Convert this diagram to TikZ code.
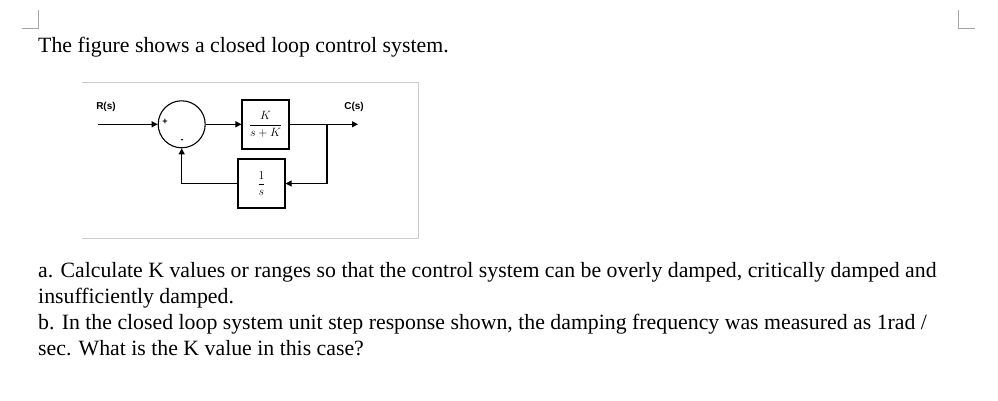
\documentclass[tikz,border=0pt]{standalone}
\usepackage{fontspec}
\setmainfont{Liberation Serif}
\newfontfamily\lsans{Liberation Sans}
\usetikzlibrary{arrows.meta}
\begin{document}
\begin{tikzpicture}[x=1pt,y=-1pt,
  blk/.style={draw,line width=1.1pt,minimum width=47pt,minimum height=49pt,inner sep=0pt},
  sig/.style={line width=1.1pt,-{Triangle[length=6pt,width=6pt]}},
  ln/.style={line width=1.1pt},
  txt/.style={anchor=base west,inner sep=0pt,font=\fontsize{21.8}{24}\selectfont}]
\useasboundingbox (0,0) rectangle (998,401);
\fill[white] (0,0) rectangle (998,401);
% corner marks
\draw[gray!70] (22,28) -- (38,28) -- (38,10);
\draw[gray!70] (958,10) -- (958,28) -- (975,28);
\node[txt] (t1) at (38,53) {The figure shows a closed loop control system.};
% panel frame
\draw[gray!40] (82,82) -- (418,82) -- (418,238) -- (82,238);
% diagram
\node[draw,circle,line width=1.1pt,minimum size=47pt,inner sep=0pt] (sum) at (181.7,124.3) {};
\node[blk] (G) at (265.5,124.5) {\large$\displaystyle\frac{K}{s+K}$};
\node[blk] (H) at (261.5,183.5) {\large$\displaystyle\frac{1}{s}$};
\coordinate (in) at (98,124.3);
\coordinate (br) at (327,124.3);
\coordinate (out) at (358,124.3);
\draw[sig] (in) -- (sum.west);
\draw[sig] (sum.east) -- (G.west|-sum.east);
\draw[ln] (G.east|-br) -- (br);
\draw[sig] (br) -- (out);
\draw[sig] (br) |- (H.east);
\draw[sig] (H.west) -| (sum.south);
\node[font=\lsans\bfseries\fontsize{10}{11}\selectfont] (R) at (106,107) {R(s)};
\node[font=\lsans\bfseries\fontsize{10}{11}\selectfont] (C) at (354,107) {C(s)};
\node[font=\lsans\bfseries\fontsize{9}{10}\selectfont] (p) at (165,122) {+};
\node[font=\lsans\bfseries\fontsize{9}{10}\selectfont] (m) at (182,141) {-};
% question text
\node[txt] (a1) at (38,277) {a. Calculate K values or ranges so that the control system can be overly damped, critically damped and};
\node[txt] (a2) at (38,303) {insufficiently damped.};
\node[txt] (b1) at (38,329) {b. In the closed loop system unit step response shown, the damping frequency was measured as 1rad /};
\node[txt] (b2) at (38,355) {sec. What is the K value in this case?};
\end{tikzpicture}
\end{document}
